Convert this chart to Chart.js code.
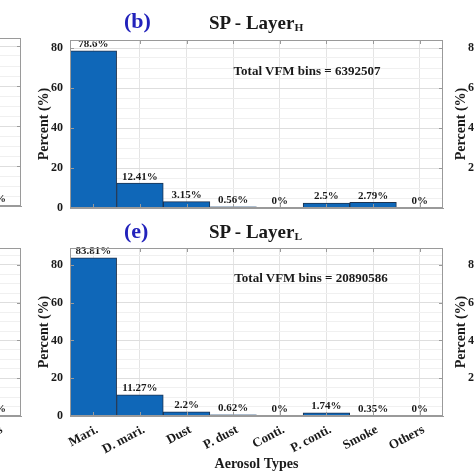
<!DOCTYPE html>
<html lang="en">
<head>
<meta charset="UTF-8">
<title>SP - Layer aerosol types</title>
<script src="https://cdn.jsdelivr.net/npm/chart.js"></script>
<style>
  html, body { margin: 0; padding: 0; background: #fff; overflow: hidden; }
  body { width: 474px; height: 474px; position: relative; font-family: 'Liberation Serif', serif; }
  .box { position: absolute; }
  .txt { position: absolute; white-space: nowrap; font-weight: bold; line-height: 1; color: #1a1a1a; }
  .panel { font-size: 22px; color: #2222bb; }
  .ttl { font-size: 19px; }
  .ttl sub { font-size: 60%; vertical-align: -2px; }
  .note { font-size: 13px; transform: translateX(-50%); }
</style>
</head>
<body>
  <!-- partial neighbour panels (cropped by the page edge) -->
  <div class="box" style="left:-422px; top:-2px; width:474px; height:240px"><canvas id="cLT"></canvas></div>
  <div class="box" style="left:-422px; top:230px; width:474px; height:244px"><canvas id="cLB"></canvas></div>
  <div class="box" style="left:417px; top:0px; width:474px; height:240px"><canvas id="cRT"></canvas></div>
  <div class="box" style="left:417px; top:230px; width:474px; height:244px"><canvas id="cRB"></canvas></div>

  <!-- main panels -->
  <div class="box" style="left:0; top:0; width:474px; height:240px"><canvas id="cH"></canvas></div>
  <div class="box" style="left:0; top:230px; width:474px; height:244px"><canvas id="cL"></canvas></div>

  <div class="txt panel" style="left:124px; top:10px">(b)</div>
  <div class="txt ttl" style="left:209px; top:13px">SP - Layer<sub>H</sub></div>
  <div class="txt note" style="left:307px; top:64px">Total VFM bins = 6392507</div>

  <div class="txt panel" style="left:124px; top:220px">(e)</div>
  <div class="txt ttl" style="left:209px; top:222px">SP - Layer<sub>L</sub></div>
  <div class="txt note" style="left:311px; top:271px">Total VFM bins = 20890586</div>

<script>
// data
var categories = ['Mari.', 'D. mari.', 'Dust', 'P. dust', 'Conti.', 'P. conti.', 'Smoke', 'Others'];
var layerH = [78.6, 12.41, 3.15, 0.56, 0, 2.5, 2.79, 0];
var layerL = [83.81, 11.27, 2.2, 0.62, 0, 1.74, 0.35, 0];
var yTicks = [0, 20, 40, 60, 80];
var yMaxH = 84;
var yMaxL = 89;
// neighbour panels: only the last bin is visible in the crop
var leftTop = [null, null, null, null, null, null, null, 0];
var leftBottom = [null, null, null, null, null, null, null, 0];
var rightTop = [];
var rightBottom = [];

Chart.defaults.font.family = "'Liberation Serif', serif";
Chart.defaults.font.weight = 'bold';
Chart.defaults.color = '#1a1a1a';

var axisGray = '#9a9a9a';

// box around the plot area with inward tick marks (MATLAB style)
var framePlugin = {
  id: 'frame',
  afterDraw: function (chart) {
    var a = chart.chartArea, ctx = chart.ctx;
    var x = chart.scales.x, y = chart.scales.y;
    ctx.save();
    ctx.strokeStyle = axisGray;
    ctx.lineWidth = 1;
    ctx.strokeRect(a.left + 0.5, a.top + 0.5, a.right - a.left - 1, a.bottom - a.top - 1);
    ctx.beginPath();
    yTicks.forEach(function (v) {
      var py = Math.round(y.getPixelForValue(v)) + 0.5;
      ctx.moveTo(a.left, py); ctx.lineTo(a.left + 4, py);
      ctx.moveTo(a.right, py); ctx.lineTo(a.right - 4, py);
    });
    categories.forEach(function (c, i) {
      var px = Math.round(x.getPixelForValue(i)) + 0.5;
      ctx.moveTo(px, a.top); ctx.lineTo(px, a.top + 4);
      ctx.moveTo(px, a.bottom); ctx.lineTo(px, a.bottom - 4);
    });
    ctx.stroke();
    ctx.restore();
  }
};

// percentage labels over the bars
var labelPlugin = {
  id: 'barLabels',
  afterDatasetsDraw: function (chart) {
    var ctx = chart.ctx;
    var ds = chart.data.datasets[0];
    var meta = chart.getDatasetMeta(0);
    ctx.save();
    ctx.font = "bold 11px 'Liberation Serif', serif";
    ctx.fillStyle = '#1a1a1a';
    ctx.textAlign = 'center';
    ctx.textBaseline = 'bottom';
    meta.data.forEach(function (bar, i) {
      var v = ds.data[i];
      if (v === null || v === undefined) return;
      ctx.fillText(v + '%', bar.x, bar.y - 1);
    });
    ctx.restore();
  }
};

function makeChart(id, values, ymax, padTop, xHeight, showX) {
  var ctx = document.getElementById(id).getContext('2d');
  return new Chart(ctx, {
    type: 'bar',
    data: {
      labels: categories,
      datasets: [{
        data: values,
        backgroundColor: '#0f67b8',
        borderColor: '#1d3350',
        borderWidth: 1,
        barPercentage: 1,
        categoryPercentage: 1
      }]
    },
    options: {
      responsive: true,
      maintainAspectRatio: false,
      animation: false,
      layout: { padding: { top: padTop, right: 31, bottom: 0, left: 0 } },
      plugins: { legend: { display: false }, tooltip: { enabled: false } },
      scales: {
        x: {
          afterFit: function (s) { s.height = xHeight; },
          grid: { offset: false, color: '#e4e4e4', drawTicks: false },
          border: { display: true, color: axisGray },
          ticks: {
            display: showX,
            maxRotation: 28,
            minRotation: 28,
            padding: 6,
            labelOffset: 4,
            font: { size: 13, weight: 'bold' }
          },
          title: {
            display: showX,
            text: 'Aerosol Types',
            font: { size: 14, weight: 'bold' },
            padding: { top: 0, bottom: 1 }
          }
        },
        y: {
          min: 0,
          max: ymax,
          afterFit: function (s) { s.width = 70; },
          grid: {
            drawTicks: false,
            color: function (c) {
              return c.tick && c.tick.value % 20 === 0 ? '#dedede' : '#f0f0f0';
            }
          },
          border: { display: true, color: axisGray },
          ticks: {
            stepSize: 5,
            autoSkip: false,
            includeBounds: false,
            padding: 7,
            font: { size: 12, weight: 'bold' },
            callback: function (v) { return yTicks.indexOf(v) >= 0 ? v : ''; }
          },
          title: {
            display: true,
            text: 'Percent (%)',
            font: { size: 14, weight: 'bold' },
            padding: { top: 36, bottom: 0 }
          }
        }
      }
    },
    plugins: [framePlugin, labelPlugin]
  });
}

makeChart('cH', layerH, yMaxH, 40, 32, false);
makeChart('cL', layerL, yMaxL, 18, 58, true);
makeChart('cLT', leftTop, yMaxH, 40, 32, false);
makeChart('cLB', leftBottom, yMaxL, 18, 58, true);
makeChart('cRT', rightTop, yMaxH, 40, 32, false);
makeChart('cRB', rightBottom, yMaxL, 18, 58, true);
</script>
</body>
</html>
